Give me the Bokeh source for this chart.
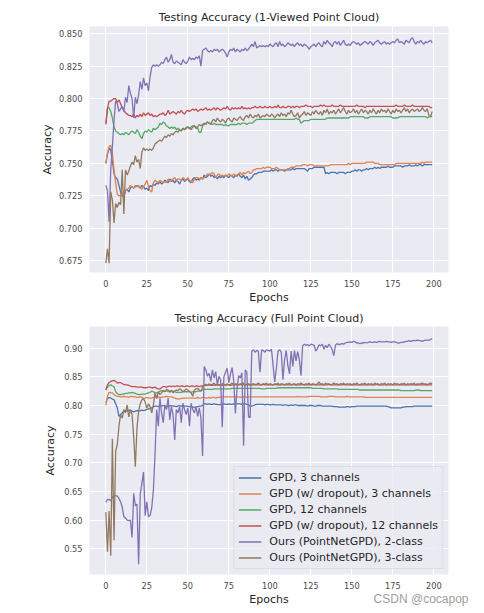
from bokeh.plotting import figure
from bokeh.layouts import column
from bokeh.models import Range1d, FixedTicker, NumeralTickFormatter, Title
from bokeh.embed import file_html
from bokeh.resources import INLINE

epochs = list(range(200))
x_ticks = [0, 25, 50, 75, 100, 125, 150, 175, 200]
top_y_ticks = [0.675, 0.700, 0.725, 0.750, 0.775, 0.800, 0.825, 0.850]
bot_y_ticks = [0.55, 0.60, 0.65, 0.70, 0.75, 0.80, 0.85, 0.90]
series_names = ["GPD, 3 channels", "GPD (w/ dropout), 3 channels", "GPD, 12 channels",
                "GPD (w/ dropout), 12 channels", "Ours (PointNetGPD), 2-class", "Ours (PointNetGPD), 3-class"]
colors = ["#4C72B0", "#DD8452", "#55A868", "#C44E52", "#8172B3", "#937860"]
titles = ["Testing Accuracy (1-Viewed Point Cloud)", "Testing Accuracy (Full Point Cloud)"]
watermark = "CSDN @cocapop"

# ---------- 1-Viewed Point Cloud ----------
v_gpd3 = [
0.750,0.757,0.762,0.760,0.752,0.742,0.739,0.738,0.733,0.728,
0.725,0.724,0.729,0.730,0.728,0.731,0.732,0.731,0.732,0.733,
0.732,0.731,0.733,0.732,0.730,0.731,0.729,0.733,0.732,0.734,
0.733,0.735,0.734,0.736,0.734,0.735,0.737,0.736,0.735,0.738,
0.736,0.737,0.735,0.737,0.736,0.734,0.737,0.738,0.736,0.737,
0.738,0.736,0.735,0.738,0.739,0.737,0.738,0.737,0.739,0.738,
0.741,0.739,0.740,0.742,0.740,0.741,0.739,0.740,0.738,0.740,
0.739,0.740,0.739,0.741,0.740,0.739,0.741,0.740,0.739,0.741,
0.740,0.742,0.740,0.739,0.741,0.738,0.740,0.737,0.738,0.739,
0.741,0.742,0.742,0.743,0.743,0.743,0.744,0.744,0.744,0.744,
0.744,0.745,0.744,0.745,0.745,0.744,0.745,0.745,0.745,0.744,
0.745,0.745,0.745,0.745,0.746,0.745,0.746,0.746,0.746,0.746,
0.746,0.746,0.745,0.744,0.746,0.746,0.746,0.747,0.747,0.747,
0.747,0.747,0.747,0.747,0.742,0.743,0.742,0.743,0.743,0.743,
0.743,0.742,0.743,0.743,0.743,0.743,0.742,0.743,0.743,0.743,
0.744,0.744,0.745,0.744,0.745,0.745,0.744,0.745,0.745,0.746,
0.745,0.746,0.746,0.746,0.747,0.746,0.747,0.746,0.747,0.747,
0.747,0.747,0.748,0.747,0.747,0.747,0.748,0.748,0.748,0.748,
0.748,0.747,0.748,0.748,0.748,0.749,0.748,0.748,0.748,0.749,
0.748,0.749,0.749,0.748,0.749,0.749,0.749,0.749,0.749,0.749]
v_gpd3_do = [
0.750,0.758,0.763,0.764,0.758,0.745,0.735,0.726,0.725,0.725,
0.726,0.728,0.729,0.730,0.731,0.733,0.732,0.731,0.733,0.732,
0.733,0.731,0.730,0.732,0.734,0.737,0.732,0.729,0.728,0.735,
0.737,0.736,0.735,0.737,0.736,0.735,0.736,0.735,0.738,0.736,
0.737,0.738,0.739,0.737,0.738,0.738,0.737,0.739,0.738,0.737,
0.739,0.737,0.736,0.735,0.738,0.739,0.739,0.738,0.739,0.738,
0.739,0.740,0.742,0.741,0.742,0.743,0.742,0.739,0.741,0.742,
0.740,0.741,0.740,0.741,0.740,0.742,0.741,0.740,0.742,0.740,
0.741,0.742,0.743,0.741,0.743,0.742,0.743,0.744,0.742,0.743,
0.745,0.745,0.746,0.746,0.746,0.746,0.747,0.746,0.747,0.747,
0.747,0.746,0.746,0.746,0.747,0.746,0.745,0.745,0.745,0.745,
0.745,0.746,0.746,0.747,0.747,0.747,0.748,0.748,0.748,0.748,
0.749,0.749,0.749,0.748,0.749,0.749,0.749,0.748,0.748,0.748,
0.748,0.748,0.748,0.748,0.748,0.748,0.748,0.749,0.749,0.749,
0.749,0.749,0.749,0.749,0.749,0.749,0.749,0.749,0.750,0.749,
0.750,0.750,0.750,0.750,0.750,0.750,0.750,0.750,0.750,0.751,
0.751,0.751,0.751,0.751,0.750,0.750,0.750,0.749,0.749,0.749,
0.749,0.749,0.749,0.749,0.749,0.749,0.749,0.750,0.750,0.750,
0.750,0.750,0.750,0.750,0.750,0.750,0.750,0.750,0.750,0.750,
0.750,0.750,0.750,0.751,0.750,0.751,0.751,0.751,0.751,0.751]
v_gpd12 = [
0.781,0.793,0.793,0.790,0.785,0.778,0.775,0.774,0.773,0.772,
0.773,0.772,0.774,0.773,0.772,0.774,0.775,0.774,0.773,0.776,
0.774,0.771,0.769,0.773,0.775,0.774,0.776,0.775,0.774,0.777,
0.776,0.777,0.778,0.781,0.780,0.782,0.781,0.779,0.778,0.777,
0.778,0.777,0.778,0.776,0.777,0.776,0.775,0.777,0.776,0.778,
0.778,0.777,0.778,0.779,0.779,0.778,0.777,0.774,0.774,0.779,
0.780,0.781,0.782,0.781,0.781,0.780,0.781,0.780,0.780,0.780,
0.780,0.780,0.779,0.780,0.779,0.779,0.780,0.780,0.780,0.780,
0.780,0.781,0.780,0.781,0.781,0.781,0.780,0.781,0.781,0.781,
0.782,0.783,0.784,0.784,0.784,0.784,0.784,0.784,0.784,0.784,
0.784,0.784,0.784,0.784,0.784,0.784,0.784,0.784,0.784,0.784,
0.784,0.784,0.784,0.784,0.784,0.784,0.785,0.784,0.784,0.781,
0.782,0.783,0.783,0.783,0.783,0.784,0.784,0.784,0.784,0.784,
0.784,0.784,0.784,0.784,0.784,0.785,0.785,0.785,0.785,0.785,
0.785,0.785,0.785,0.785,0.785,0.785,0.785,0.785,0.785,0.786,
0.786,0.786,0.786,0.786,0.786,0.786,0.786,0.786,0.785,0.785,
0.785,0.786,0.786,0.786,0.786,0.786,0.786,0.786,0.786,0.786,
0.786,0.786,0.786,0.786,0.786,0.785,0.785,0.785,0.785,0.786,
0.786,0.786,0.786,0.786,0.786,0.786,0.786,0.786,0.786,0.786,
0.786,0.786,0.786,0.786,0.786,0.786,0.785,0.786,0.786,0.786]
v_gpd12_do = [
0.780,0.792,0.798,0.798,0.799,0.800,0.800,0.797,0.799,0.796,
0.793,0.791,0.789,0.788,0.787,0.787,0.786,0.788,0.785,0.787,
0.786,0.788,0.786,0.789,0.787,0.788,0.789,0.787,0.788,0.786,
0.787,0.786,0.787,0.788,0.788,0.789,0.787,0.788,0.791,0.788,
0.789,0.790,0.789,0.788,0.790,0.789,0.791,0.789,0.788,0.790,
0.791,0.790,0.791,0.792,0.791,0.792,0.790,0.791,0.792,0.791,
0.792,0.793,0.791,0.792,0.791,0.792,0.793,0.791,0.793,0.792,
0.791,0.792,0.793,0.792,0.794,0.792,0.791,0.793,0.792,0.793,
0.792,0.793,0.792,0.794,0.792,0.793,0.792,0.793,0.792,0.793,
0.793,0.794,0.793,0.793,0.794,0.793,0.793,0.794,0.793,0.793,
0.794,0.793,0.793,0.794,0.793,0.795,0.793,0.793,0.794,0.793,
0.793,0.794,0.794,0.793,0.794,0.793,0.794,0.794,0.793,0.794,
0.794,0.794,0.795,0.794,0.794,0.794,0.793,0.794,0.794,0.794,
0.794,0.795,0.794,0.795,0.794,0.794,0.794,0.794,0.795,0.794,
0.794,0.794,0.794,0.795,0.794,0.794,0.794,0.794,0.794,0.794,
0.794,0.794,0.794,0.795,0.794,0.794,0.794,0.794,0.793,0.794,
0.794,0.794,0.794,0.794,0.794,0.794,0.794,0.794,0.794,0.794,
0.794,0.794,0.794,0.794,0.794,0.794,0.794,0.795,0.794,0.794,
0.794,0.794,0.795,0.794,0.794,0.794,0.794,0.795,0.794,0.794,
0.794,0.794,0.794,0.794,0.794,0.794,0.794,0.794,0.793,0.793]
v_ours2 = [
0.733,0.729,0.705,0.745,0.763,0.783,0.798,0.796,0.790,0.792,
0.794,0.790,0.801,0.797,0.810,0.804,0.800,0.785,0.801,0.796,
0.803,0.813,0.807,0.816,0.810,0.812,0.806,0.817,0.824,0.826,
0.825,0.826,0.825,0.826,0.828,0.827,0.830,0.832,0.828,0.830,
0.834,0.828,0.827,0.829,0.828,0.827,0.826,0.830,0.828,0.827,
0.829,0.832,0.830,0.831,0.830,0.832,0.831,0.833,0.825,0.837,
0.838,0.839,0.837,0.836,0.837,0.836,0.838,0.837,0.838,0.836,
0.837,0.838,0.837,0.835,0.832,0.836,0.838,0.837,0.839,0.836,
0.838,0.837,0.836,0.838,0.837,0.839,0.837,0.838,0.840,0.842,
0.840,0.844,0.839,0.840,0.841,0.840,0.841,0.840,0.841,0.840,
0.842,0.841,0.840,0.842,0.843,0.840,0.844,0.841,0.842,0.840,
0.841,0.843,0.842,0.841,0.842,0.840,0.842,0.843,0.841,0.842,
0.840,0.842,0.841,0.840,0.838,0.840,0.841,0.842,0.840,0.842,
0.843,0.841,0.840,0.844,0.842,0.845,0.843,0.842,0.840,0.843,
0.844,0.842,0.844,0.841,0.843,0.845,0.842,0.841,0.842,0.841,
0.843,0.844,0.843,0.842,0.843,0.841,0.842,0.843,0.844,0.843,
0.842,0.844,0.843,0.841,0.843,0.844,0.845,0.843,0.842,0.843,
0.844,0.842,0.843,0.842,0.843,0.844,0.843,0.845,0.846,0.843,
0.844,0.843,0.842,0.845,0.844,0.843,0.846,0.847,0.844,0.842,
0.844,0.843,0.845,0.843,0.842,0.844,0.843,0.844,0.845,0.843]
v_ours3 = [
0.673,0.684,0.673,0.728,0.722,0.704,0.719,0.716,0.720,0.718,
0.745,0.711,0.745,0.741,0.744,0.748,0.751,0.749,0.756,0.751,
0.753,0.746,0.759,0.762,0.760,0.761,0.760,0.761,0.760,0.762,
0.765,0.766,0.767,0.768,0.767,0.769,0.771,0.770,0.772,0.771,
0.773,0.772,0.774,0.775,0.774,0.776,0.775,0.777,0.776,0.777,
0.778,0.777,0.776,0.778,0.779,0.777,0.778,0.780,0.779,0.780,
0.781,0.780,0.782,0.781,0.780,0.783,0.784,0.782,0.785,0.783,
0.782,0.784,0.783,0.781,0.784,0.785,0.783,0.782,0.785,0.784,
0.783,0.785,0.786,0.784,0.783,0.786,0.787,0.785,0.788,0.786,
0.785,0.787,0.786,0.788,0.785,0.786,0.787,0.786,0.788,0.787,
0.786,0.788,0.787,0.785,0.787,0.788,0.786,0.789,0.787,0.788,
0.786,0.789,0.788,0.791,0.788,0.786,0.787,0.789,0.785,0.787,
0.788,0.790,0.787,0.789,0.788,0.787,0.790,0.788,0.791,0.789,
0.788,0.790,0.787,0.791,0.789,0.792,0.788,0.790,0.789,0.791,
0.788,0.790,0.792,0.789,0.791,0.793,0.790,0.788,0.791,0.789,
0.790,0.792,0.789,0.791,0.788,0.790,0.792,0.789,0.791,0.790,
0.788,0.791,0.789,0.792,0.790,0.788,0.791,0.789,0.792,0.790,
0.791,0.789,0.792,0.790,0.788,0.791,0.789,0.792,0.790,0.791,
0.789,0.791,0.793,0.790,0.792,0.789,0.791,0.792,0.790,0.791,
0.792,0.790,0.791,0.793,0.791,0.790,0.792,0.787,0.786,0.790]

# ---------- Full Point Cloud ----------
f_gpd3 = [
0.805,0.812,0.814,0.813,0.811,0.810,0.803,0.796,0.781,0.784,
0.787,0.790,0.791,0.790,0.792,0.791,0.790,0.789,0.790,0.791,
0.790,0.791,0.792,0.791,0.792,0.793,0.794,0.795,0.796,0.798,
0.799,0.799,0.798,0.799,0.799,0.800,0.799,0.798,0.799,0.799,
0.800,0.799,0.799,0.798,0.799,0.800,0.799,0.800,0.799,0.799,
0.799,0.798,0.798,0.797,0.797,0.797,0.798,0.799,0.799,0.800,
0.803,0.803,0.802,0.803,0.802,0.802,0.803,0.802,0.802,0.801,
0.802,0.802,0.803,0.802,0.802,0.803,0.802,0.802,0.803,0.802,
0.803,0.803,0.803,0.802,0.803,0.803,0.802,0.801,0.799,0.799,
0.800,0.801,0.802,0.802,0.802,0.802,0.802,0.801,0.802,0.802,
0.801,0.801,0.802,0.801,0.801,0.801,0.801,0.801,0.800,0.801,
0.801,0.800,0.800,0.801,0.800,0.801,0.801,0.800,0.800,0.800,
0.800,0.800,0.800,0.799,0.800,0.800,0.800,0.799,0.799,0.800,
0.800,0.800,0.799,0.799,0.799,0.799,0.799,0.799,0.799,0.798,
0.798,0.798,0.797,0.797,0.797,0.797,0.797,0.798,0.798,0.797,
0.798,0.798,0.798,0.799,0.799,0.799,0.799,0.799,0.799,0.799,
0.799,0.799,0.799,0.799,0.799,0.799,0.799,0.799,0.799,0.799,
0.799,0.799,0.798,0.797,0.796,0.796,0.796,0.796,0.796,0.796,
0.796,0.797,0.797,0.798,0.798,0.798,0.798,0.798,0.799,0.799,
0.799,0.799,0.799,0.799,0.799,0.799,0.799,0.799,0.799,0.799]
f_gpd3_do = [
0.800,0.816,0.823,0.822,0.822,0.819,0.817,0.816,0.816,0.815,
0.815,0.816,0.815,0.815,0.814,0.816,0.816,0.815,0.815,0.814,
0.814,0.815,0.814,0.813,0.813,0.814,0.813,0.813,0.813,0.814,
0.814,0.814,0.815,0.814,0.814,0.815,0.815,0.816,0.815,0.815,
0.815,0.814,0.813,0.812,0.811,0.812,0.812,0.813,0.813,0.813,
0.813,0.813,0.813,0.813,0.813,0.813,0.814,0.813,0.813,0.814,
0.814,0.813,0.813,0.814,0.813,0.814,0.814,0.813,0.814,0.814,
0.814,0.815,0.815,0.815,0.815,0.815,0.815,0.815,0.815,0.815,
0.815,0.815,0.814,0.815,0.815,0.815,0.814,0.815,0.815,0.815,
0.815,0.815,0.815,0.815,0.815,0.815,0.815,0.815,0.815,0.815,
0.815,0.815,0.815,0.815,0.815,0.815,0.815,0.815,0.815,0.815,
0.815,0.815,0.815,0.815,0.815,0.815,0.815,0.816,0.815,0.815,
0.815,0.815,0.815,0.815,0.816,0.816,0.816,0.816,0.816,0.816,
0.816,0.815,0.815,0.815,0.815,0.815,0.816,0.816,0.816,0.816,
0.815,0.815,0.815,0.815,0.815,0.815,0.815,0.816,0.815,0.815,
0.815,0.815,0.815,0.815,0.815,0.815,0.815,0.815,0.814,0.814,
0.814,0.814,0.814,0.814,0.814,0.814,0.814,0.814,0.814,0.814,
0.814,0.814,0.814,0.814,0.814,0.814,0.814,0.814,0.814,0.814,
0.814,0.814,0.814,0.814,0.814,0.814,0.814,0.814,0.814,0.814,
0.814,0.814,0.814,0.814,0.814,0.814,0.814,0.814,0.814,0.814]
f_gpd12 = [
0.827,0.832,0.835,0.836,0.834,0.833,0.824,0.821,0.819,0.819,
0.820,0.820,0.821,0.821,0.822,0.822,0.823,0.822,0.821,0.820,
0.819,0.819,0.820,0.820,0.820,0.821,0.822,0.823,0.825,0.824,
0.822,0.822,0.823,0.825,0.826,0.825,0.825,0.825,0.825,0.825,
0.826,0.825,0.824,0.823,0.823,0.823,0.823,0.824,0.824,0.824,
0.824,0.824,0.823,0.824,0.824,0.824,0.825,0.825,0.826,0.827,
0.828,0.828,0.828,0.828,0.828,0.828,0.829,0.829,0.829,0.829,
0.829,0.829,0.829,0.829,0.829,0.829,0.829,0.830,0.830,0.830,
0.830,0.830,0.830,0.830,0.830,0.830,0.830,0.830,0.830,0.830,
0.830,0.830,0.830,0.830,0.830,0.829,0.829,0.829,0.830,0.830,
0.830,0.830,0.830,0.830,0.830,0.831,0.831,0.831,0.831,0.831,
0.831,0.831,0.831,0.831,0.831,0.831,0.831,0.831,0.831,0.831,
0.831,0.831,0.831,0.831,0.831,0.831,0.830,0.830,0.830,0.830,
0.830,0.830,0.830,0.829,0.829,0.829,0.829,0.829,0.829,0.829,
0.829,0.829,0.828,0.828,0.828,0.828,0.828,0.828,0.828,0.828,
0.828,0.828,0.828,0.828,0.828,0.827,0.827,0.827,0.827,0.827,
0.827,0.827,0.827,0.827,0.827,0.827,0.827,0.827,0.827,0.827,
0.827,0.827,0.827,0.827,0.827,0.827,0.827,0.827,0.827,0.827,
0.826,0.826,0.826,0.826,0.826,0.826,0.826,0.826,0.826,0.827,
0.827,0.827,0.826,0.826,0.826,0.826,0.826,0.826,0.826,0.826]
f_gpd12_do = [
0.827,0.836,0.840,0.842,0.843,0.844,0.842,0.839,0.840,0.840,
0.838,0.837,0.836,0.836,0.835,0.834,0.833,0.833,0.833,0.832,
0.832,0.832,0.832,0.831,0.831,0.831,0.832,0.832,0.831,0.831,
0.832,0.830,0.829,0.829,0.831,0.833,0.833,0.832,0.833,0.834,
0.833,0.834,0.833,0.834,0.834,0.833,0.834,0.834,0.833,0.834,
0.834,0.833,0.834,0.834,0.833,0.834,0.834,0.833,0.834,0.834,
0.835,0.835,0.835,0.836,0.835,0.835,0.836,0.835,0.836,0.836,
0.836,0.835,0.836,0.836,0.836,0.836,0.835,0.836,0.836,0.836,
0.836,0.836,0.837,0.836,0.836,0.836,0.837,0.836,0.836,0.836,
0.836,0.837,0.836,0.836,0.836,0.836,0.837,0.836,0.836,0.836,
0.836,0.836,0.836,0.837,0.836,0.836,0.836,0.836,0.837,0.836,
0.836,0.836,0.836,0.836,0.837,0.836,0.836,0.836,0.836,0.836,
0.837,0.836,0.836,0.836,0.836,0.836,0.836,0.837,0.836,0.836,
0.836,0.836,0.836,0.836,0.836,0.836,0.837,0.836,0.836,0.836,
0.836,0.836,0.836,0.836,0.836,0.837,0.836,0.836,0.836,0.836,
0.836,0.836,0.836,0.836,0.836,0.836,0.836,0.836,0.836,0.836,
0.836,0.836,0.836,0.836,0.836,0.837,0.836,0.836,0.836,0.836,
0.836,0.836,0.836,0.836,0.836,0.836,0.836,0.836,0.836,0.836,
0.836,0.836,0.836,0.836,0.836,0.836,0.836,0.836,0.836,0.836,
0.836,0.836,0.836,0.836,0.836,0.836,0.836,0.836,0.836,0.836]
f_ours2 = [
0.631,0.636,0.636,0.634,0.640,0.643,0.643,0.642,0.638,0.632,
0.623,0.606,0.604,0.600,0.599,0.600,0.570,0.647,0.625,0.628,
0.523,0.646,0.664,0.684,0.608,0.632,0.606,0.608,0.622,0.652,
0.715,0.793,0.764,0.813,0.787,0.770,0.801,0.793,0.813,0.775,
0.798,0.784,0.740,0.793,0.787,0.798,0.770,0.804,0.793,0.784,
0.796,0.764,0.804,0.793,0.787,0.798,0.781,0.796,0.778,0.712,
0.868,0.862,0.851,0.856,0.842,0.862,0.848,0.859,0.836,0.851,
0.845,0.762,0.850,0.858,0.865,0.840,0.855,0.866,0.843,0.786,
0.830,0.852,0.848,0.857,0.730,0.862,0.858,0.780,0.779,0.895,
0.897,0.893,0.896,0.895,0.858,0.897,0.896,0.893,0.897,0.896,
0.895,0.898,0.870,0.841,0.865,0.895,0.897,0.893,0.845,0.880,
0.896,0.870,0.855,0.895,0.868,0.896,0.878,0.894,0.880,0.852,
0.904,0.907,0.905,0.906,0.904,0.907,0.906,0.905,0.895,0.899,
0.906,0.904,0.907,0.898,0.905,0.901,0.907,0.903,0.898,0.887,
0.905,0.908,0.906,0.907,0.908,0.907,0.909,0.910,0.910,0.911,
0.910,0.912,0.911,0.909,0.909,0.908,0.909,0.909,0.910,0.909,
0.910,0.911,0.910,0.910,0.911,0.910,0.911,0.912,0.911,0.911,
0.911,0.912,0.911,0.911,0.910,0.911,0.911,0.910,0.909,0.909,
0.910,0.910,0.911,0.912,0.912,0.913,0.912,0.913,0.913,0.913,
0.914,0.913,0.913,0.912,0.913,0.914,0.914,0.914,0.915,0.917]
f_ours3 = [
0.614,0.545,0.616,0.538,0.742,0.565,0.720,0.732,0.764,0.784,
0.778,0.793,0.787,0.801,0.780,0.793,0.784,0.745,0.693,0.761,
0.790,0.803,0.810,0.812,0.806,0.795,0.803,0.798,0.787,0.801,
0.822,0.812,0.824,0.819,0.822,0.826,0.824,0.828,0.827,0.823,
0.826,0.822,0.825,0.827,0.826,0.829,0.827,0.824,0.826,0.829,
0.827,0.825,0.822,0.816,0.827,0.829,0.830,0.827,0.825,0.832,
0.836,0.837,0.835,0.838,0.836,0.837,0.839,0.836,0.837,0.835,
0.836,0.838,0.837,0.835,0.838,0.836,0.837,0.839,0.836,0.838,
0.837,0.836,0.838,0.837,0.839,0.836,0.837,0.838,0.836,0.837,
0.838,0.836,0.837,0.839,0.837,0.836,0.838,0.837,0.839,0.836,
0.838,0.837,0.836,0.838,0.837,0.839,0.836,0.838,0.837,0.836,
0.838,0.837,0.839,0.836,0.837,0.838,0.836,0.838,0.837,0.839,
0.837,0.836,0.838,0.837,0.839,0.836,0.838,0.837,0.836,0.838,
0.841,0.837,0.838,0.836,0.839,0.837,0.838,0.836,0.837,0.839,
0.837,0.838,0.836,0.838,0.837,0.839,0.836,0.838,0.837,0.838,
0.836,0.838,0.837,0.839,0.837,0.836,0.838,0.837,0.839,0.836,
0.838,0.837,0.838,0.836,0.839,0.837,0.838,0.836,0.838,0.837,
0.839,0.836,0.838,0.837,0.838,0.836,0.839,0.837,0.838,0.836,
0.838,0.837,0.839,0.836,0.838,0.837,0.838,0.837,0.839,0.836,
0.838,0.837,0.838,0.839,0.837,0.838,0.836,0.838,0.839,0.838]

top_series = [v_gpd3, v_gpd3_do, v_gpd12, v_gpd12_do, v_ours2, v_ours3]
bot_series = [f_gpd3, f_gpd3_do, f_gpd12, f_gpd12_do, f_ours2, f_ours3]

FONT = "DejaVu Sans"


def make_fig(title, y_lo, y_hi, yticks, yfmt, height, left, top, bottom, title_standoff, ylab_standoff):
    p = figure(width=476, height=height, output_backend="svg", toolbar_location=None,
               x_range=Range1d(-9.95, 208.95), y_range=Range1d(y_lo, y_hi),
               min_border_left=left, min_border_right=28, min_border_top=top,
               min_border_bottom=bottom, title=title)
    p.background_fill_color = "#EAEAF2"
    p.border_fill_color = "white"
    p.outline_line_color = None
    p.title.text_font = FONT
    p.title.text_font_size = "11px"
    p.title.text_font_style = "normal"
    p.title.text_color = "#262626"
    p.title.align = "center"
    p.title.standoff = title_standoff
    p.title.offset = 0
    p.xaxis.ticker = FixedTicker(ticks=x_ticks)
    p.yaxis.ticker = FixedTicker(ticks=yticks)
    p.yaxis.formatter = NumeralTickFormatter(format=yfmt)
    for ax in (p.xaxis, p.yaxis):
        ax.axis_line_color = None
        ax.major_tick_line_color = None
        ax.minor_tick_line_color = None
        ax.major_tick_out = 0
        ax.major_tick_in = 0
        ax.minor_tick_out = 0
        ax.minor_tick_in = 0
        ax.major_label_text_font = FONT
        ax.major_label_text_font_size = "8.2px"
        ax.major_label_text_color = "#4a4a4a"
        ax.axis_label_text_font = FONT
        ax.axis_label_text_font_size = "11px"
        ax.axis_label_text_font_style = "normal"
        ax.axis_label_text_color = "#262626"
    p.xaxis.axis_label = "Epochs"
    p.yaxis.axis_label = "Accuracy"
    p.xaxis.major_label_standoff = 7
    p.yaxis.major_label_standoff = 7
    p.xaxis.axis_label_standoff = 1
    p.yaxis.axis_label_standoff = ylab_standoff
    p.xgrid.grid_line_color = "white"
    p.ygrid.grid_line_color = "white"
    p.xgrid.grid_line_width = 1.1
    p.ygrid.grid_line_width = 1.1
    return p


p1 = make_fig(titles[0], 0.6658, 0.8556, top_y_ticks, "0.000", 306, 89, 26, 32, 6, 2)
for ys, c in zip(top_series, colors):
    p1.line(epochs, ys, line_color=c, line_width=1.3)

p2 = make_fig(titles[1], 0.5052, 0.9378, bot_y_ticks, "0.00", 304, 84, 20, 36, 3, 4)
for ys, c, name in zip(bot_series, colors, series_names):
    p2.line(epochs, ys, line_color=c, line_width=1.3, legend_label=name)

lg = p2.legend[0]
lg.location = "bottom_right"
lg.margin = 5
lg.padding = 4
lg.spacing = 3
lg.label_height = 13
lg.glyph_height = 13
lg.glyph_width = 23
lg.label_standoff = 8
lg.label_text_font = FONT
lg.label_text_font_size = "11px"
lg.label_text_color = "#262626"
lg.background_fill_color = "#EAEAF2"
lg.background_fill_alpha = 0.8
lg.border_line_color = "#cfcfd6"
lg.border_line_width = 1

wm = Title(text=watermark, align="right", vertical_align="top", text_font="Liberation Sans",
           text_font_size="12px", text_font_style="normal", text_color="#a0a0a0",
           standoff=-34, offset=-20)
p2.add_layout(wm, "below")

layout = column(p1, p2, spacing=0)
open("out.html", "w").write(file_html(layout, INLINE))
